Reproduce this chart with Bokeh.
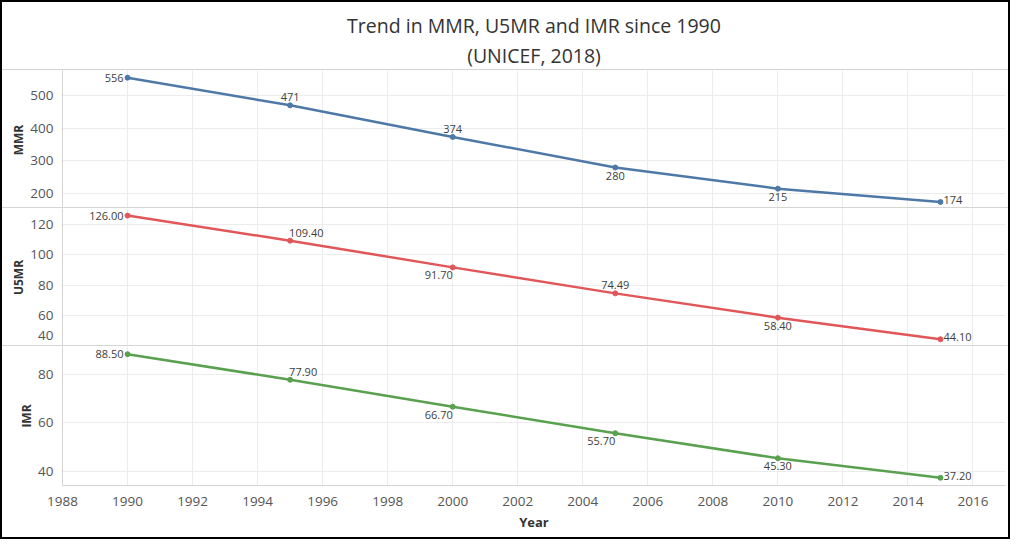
from bokeh.plotting import figure
from bokeh.layouts import column
from bokeh.models import Range1d, FixedTicker
from bokeh.embed import file_html
from bokeh.resources import INLINE

# ---------------- data ----------------
title_lines = ["Trend in MMR, U5MR and IMR since 1990", "(UNICEF, 2018)"]
years = [1990, 1995, 2000, 2005, 2010, 2015]
mmr = [556, 471, 374, 280, 215, 174]
u5mr = [126.00, 109.40, 91.70, 74.49, 58.40, 44.10]
imr = [88.50, 77.90, 66.70, 55.70, 45.30, 37.20]
mmr_labels = ["556", "471", "374", "280", "215", "174"]
u5mr_labels = ["126.00", "109.40", "91.70", "74.49", "58.40", "44.10"]
imr_labels = ["88.50", "77.90", "66.70", "55.70", "45.30", "37.20"]
x_ticks = [1988, 1990, 1992, 1994, 1996, 1998, 2000, 2002, 2004, 2006,
           2008, 2010, 2012, 2014, 2016]
mmr_ticks = [200, 300, 400, 500]
u5mr_ticks = [40, 60, 80, 100, 120]
imr_ticks = [40, 60, 80]

# ---------------- styling ----------------
FONT = "Open Sans"
W = 1006
TITLE_H = 67
SEP = "#d4d4d4"
PLACE = {
    "left": dict(text_align="right", text_baseline="middle", x_offset=-4, y_offset=0),
    "right": dict(text_align="left", text_baseline="middle", x_offset=3, y_offset=-2),
    "above": dict(text_align="center", text_baseline="bottom", x_offset=0, y_offset=-4),
    "below": dict(text_align="center", text_baseline="top", x_offset=0, y_offset=4),
    "above_right": dict(text_align="left", text_baseline="bottom", x_offset=-1, y_offset=-4),
    "below_left": dict(text_align="right", text_baseline="top", x_offset=0, y_offset=4),
}
mmr_place = ["left", "above", "above", "below", "below", "right"]
u5mr_place = ["left", "above_right", "below_left", "above", "below", "right"]
imr_place = ["left", "above_right", "below_left", "below_left", "below", "right"]

x_range = Range1d(1988, 2017)

# ---------------- title area ----------------
p0 = figure(width=W, height=TITLE_H, x_range=Range1d(0, 1), y_range=Range1d(TITLE_H, 0),
            output_backend="svg", toolbar_location=None,
            x_axis_location=None, y_axis_location=None, min_border=0)
p0.grid.visible = False
p0.outline_line_color = None
p0.text(x=[0.5, 0.5], y=[23, 53], text=title_lines, text_align="center",
        text_baseline="middle", text_font={"value": FONT}, text_font_size="19.5px",
        text_color="#333333")


def panel(vals, labels, places, color, ticks, yr, ylabel, height,
          bottom=0, show_x=False, styles=None, label_ticks=None):
    p = figure(width=W, height=height, x_range=x_range, y_range=Range1d(*yr),
               output_backend="svg", toolbar_location=None,
               x_axis_location="below" if show_x else None,
               min_border_left=60, min_border_right=3,
               min_border_top=0, min_border_bottom=bottom,
               styles=styles or {})
    p.outline_line_color = None
    p.background_fill_color = "white"
    p.border_fill_color = "white"

    p.xgrid.ticker = FixedTicker(ticks=x_ticks)
    p.ygrid.ticker = FixedTicker(ticks=ticks)
    p.xgrid.grid_line_color = "#ececec"
    p.ygrid.grid_line_color = "#ececec"

    ax = p.yaxis[0]
    ax.ticker = FixedTicker(ticks=label_ticks or ticks)
    ax.axis_line_color = SEP
    ax.major_tick_line_color = None
    ax.minor_tick_line_color = None
    ax.major_label_text_font = FONT
    ax.major_label_text_font_size = "13.5px"
    ax.major_label_text_color = "#555555"
    ax.major_label_standoff = 3
    ax.axis_label = ylabel
    ax.axis_label_text_font = FONT
    ax.axis_label_text_font_style = "bold"
    ax.axis_label_text_font_size = "12px"
    ax.axis_label_text_color = "#333333"
    ax.axis_label_standoff = 0

    if show_x:
        xa = p.xaxis[0]
        xa.ticker = FixedTicker(ticks=x_ticks)
        xa.axis_line_color = SEP
        xa.major_tick_line_color = None
        xa.minor_tick_line_color = None
        xa.major_label_text_font = FONT
        xa.major_label_text_font_size = "13.5px"
        xa.major_label_text_color = "#555555"
        xa.major_label_standoff = 5
        xa.axis_label = "Year"
        xa.axis_label_text_font = FONT
        xa.axis_label_text_font_style = "bold"
        xa.axis_label_text_font_size = "13px"
        xa.axis_label_text_color = "#333333"
        xa.axis_label_standoff = 4

    p.line(years, vals, line_color=color, line_width=2.5)
    p.scatter(years, vals, size=5, color=color)
    for x, v, t, pl in zip(years, vals, labels, places):
        p.text(x=[x], y=[v], text=[t], text_font_size="11px",
               text_color="#404040", text_font={"value": FONT}, **PLACE[pl])
    return p


# U5MR: the lowest tick label sits on the panel boundary; like the reference,
# lift that label a few pixels so it is drawn inside the panel.
U5_RANGE = (39.3, 130.7)
U5_FRAME = 137
lift = round(10 * (U5_RANGE[1] - U5_RANGE[0]) / U5_FRAME, 1)
u5_label_ticks = [u5mr_ticks[0] + lift] + u5mr_ticks[1:]

p1 = panel(mmr, mmr_labels, mmr_place, "#4e79a7", mmr_ticks, (151, 578), "MMR", 139,
           styles={"border-top": "1px solid " + SEP, "border-bottom": "1px solid " + SEP})
p2 = panel(u5mr, u5mr_labels, u5mr_place, "#e15759", u5mr_ticks, U5_RANGE, "U5MR", 138,
           styles={"border-bottom": "1px solid " + SEP}, label_ticks=u5_label_ticks)
p2.yaxis[0].major_label_overrides = {u5_label_ticks[0]: str(u5mr_ticks[0])}
p3 = panel(imr, imr_labels, imr_place, "#59a14f", imr_ticks, (34.0, 91.7), "IMR", 191,
           bottom=52, show_x=True)

layout = column(p0, p1, p2, p3, spacing=0, styles={"border": "2px solid black"})

open("out.html", "w").write(file_html(layout, INLINE))
